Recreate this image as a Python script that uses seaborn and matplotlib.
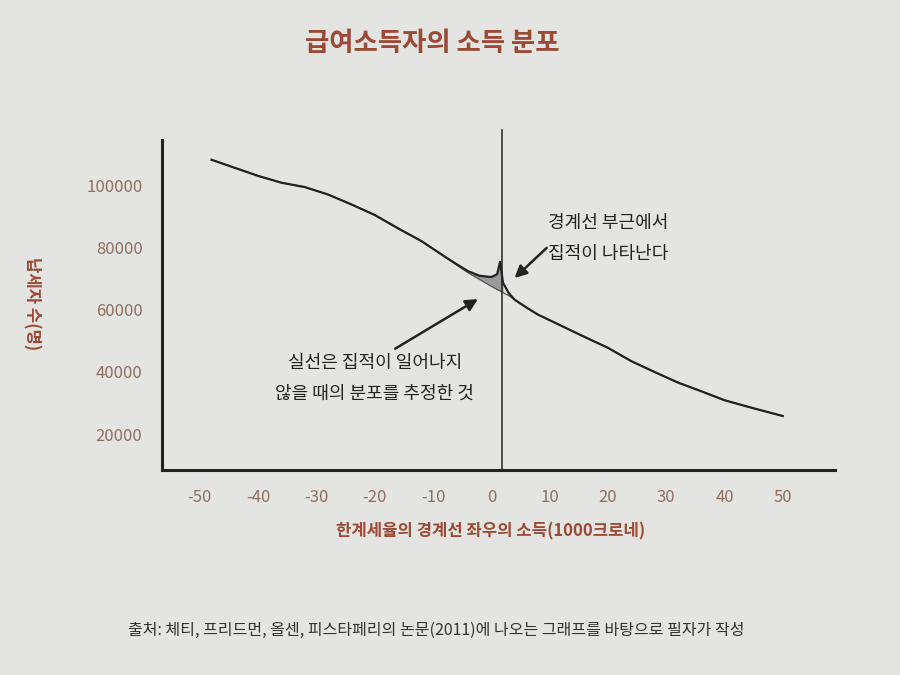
import matplotlib
matplotlib.use("Agg")
import matplotlib.pyplot as plt
import seaborn as sns
import pandas as pd

plt.rcParams["font.family"] = ["Noto Sans CJK KR", "Noto Sans CJK JP", "Noto Sans CJK SC", "DejaVu Sans"]
plt.rcParams["axes.unicode_minus"] = False

income = [-48, -44, -40, -36, -32, -28, -24, -20, -16, -12, -8, -6, -4, -2, 0, 1, 1.5, 2, 3, 4, 6, 8, 12, 16, 20, 24, 28, 32, 36, 40, 44, 48, 50]
actual = [108400, 105800, 103200, 101000, 99600, 97200, 94000, 90600, 86300, 82200, 77200, 74800, 72500, 71000, 70600, 71500, 75500, 68800, 65400, 63300, 60800, 58500, 54900, 51300, 47800, 43500, 40000, 36600, 33800, 30900, 28800, 26800, 25800]
counterfactual = [108400, 105800, 103200, 101000, 99600, 97200, 94000, 90600, 86300, 82200, 77200, 74500, 72000, 69800, 67600, 66600, 66100, 65600, 64600, 63300, 60800, 58500, 54900, 51300, 47800, 43500, 40000, 36600, 33800, 30900, 28800, 26800, 25800]
xticks = [-50, -40, -30, -20, -10, 0, 10, 20, 30, 40, 50]
yticks = [20000, 40000, 60000, 80000, 100000]

df = pd.DataFrame({"x": income, "actual": actual, "fit": counterfactual})

bg = "#e4e4e2"
red = "#9c4a35"
tickc = "#8f6f60"
fig = plt.figure(figsize=(9, 6.75), dpi=100, facecolor=bg)
ax = fig.add_axes([0.18, 0.3037, 0.748, 0.489], facecolor=bg)

mask = (df.x >= -8) & (df.x <= 2)
ax.fill_between(df.x[mask], df.fit[mask], df.actual[mask], color="#9a9a9a", lw=0)
sns.lineplot(data=df, x="x", y="fit", ax=ax, color="#555555", lw=0.9)
sns.lineplot(data=df, x="x", y="actual", ax=ax, color="#222222", lw=1.6)
ax.axvline(1.8, ymin=0, ymax=1.03, color="#222222", lw=1.1, clip_on=False)

ax.set_xlim(-56.5, 59)
ax.set_ylim(8400, 114800)
ax.set_xticks(xticks)
ax.set_yticks(yticks)
ax.tick_params(length=0, labelsize=12, colors=tickc, pad=14)
for s in ["top", "right"]:
    ax.spines[s].set_visible(False)
for s in ["left", "bottom"]:
    ax.spines[s].set_linewidth(2.2)
    ax.spines[s].set_color("#222222")
ax.set_xlabel("")
ax.set_ylabel("")

arrow = dict(arrowstyle="-|>", color="#222222", lw=1.8, mutation_scale=18, shrinkA=0, shrinkB=0)
ax.text(20, 83000, "경계선 부근에서\n집적이 나타난다", fontsize=13, color="#222222",
        ha="center", va="center", linespacing=1.9)
ax.annotate("", xy=(4, 70300), xytext=(9.5, 80000), arrowprops=arrow)
ax.text(-20, 38000, "실선은 집적이 일어나지\n않을 때의 분포를 추정한 것", fontsize=13, color="#222222",
        ha="center", va="center", linespacing=1.9)
ax.annotate("", xy=(-2.3, 63500), xytext=(-16.5, 47500), arrowprops=arrow)

fig.text(0.48, 0.925, "급여소득자의 소득 분포", fontsize=19, fontweight="bold", color=red, ha="center")
fig.text(0.035, 0.55, "납세자 수(명)", fontsize=12, fontweight="bold", color=red, rotation=270, ha="center", va="center")
fig.text(0.545, 0.205, "한계세율의 경계선 좌우의 소득(1000크로네)", fontsize=12, fontweight="bold", color=red, ha="center")
fig.text(0.485, 0.06, "출처: 체티, 프리드먼, 올센, 피스타페리의 논문(2011)에 나오는 그래프를 바탕으로 필자가 작성",
         fontsize=11.5, color="#333333", ha="center")

fig.savefig("out.png", dpi=100, facecolor=bg)
